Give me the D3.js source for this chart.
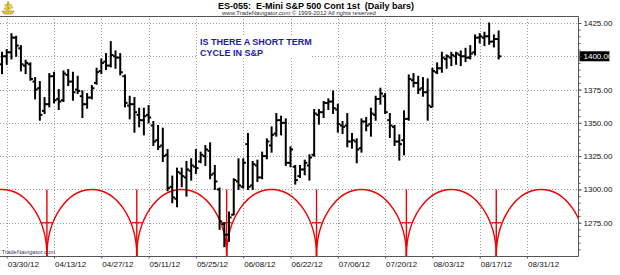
<!DOCTYPE html>
<html>
<head>
<meta charset="utf-8">
<script src="https://cdn.jsdelivr.net/npm/d3@7"></script>
<style>
    body { margin: 0; background: #fff; }
    svg { display: block; font-family: "Liberation Sans", Arial, sans-serif; }
</style>
</head>
<body>
<svg id="chart" width="620" height="275"></svg>
<script>
// daily bars, one slot per weekday starting 03/29/12
var opens = [1394, 1400, 1403, 1414, 1406, 1393, 1394, 1381, 1376, 1359, 1364, 1385, 1368, 1367, 1386, 1381, 1375, 1370, 1364, 1369,
    1380, 1389, 1396, 1393, 1400, 1399, 1385, 1363, 1364, 1356, 1352, 1356, 1348, 1337, 1333, 1326, 1302, 1293, 1312, 1309,
    1314, 1317, 1321, 1325, 1329, 1312, 1300, 1274, 1266, 1281, 1306, 1302, 1334, 1303, 1318, 1309, 1325, 1333, 1342, 1352,
    1350, 1320, 1317, 1310, 1315, 1318, 1326, 1356, 1358, 1365, 1366, 1360, 1348, 1348, 1336, 1336, 1331, 1351, 1349, 1356,
    1368, 1370, 1352, 1347, 1336, 1337, 1353, 1382, 1380, 1376, 1373, 1362, 1388, 1391, 1398, 1399, 1400, 1401, 1400, 1399,
    1403, 1414, 1414, 1415, 1411, 1413];
var highs = [1403, 1405, 1417, 1415, 1408, 1397, 1395, 1384, 1381, 1369, 1387, 1388, 1375, 1389, 1390, 1388, 1385, 1374, 1372, 1378,
    1391, 1398, 1402, 1411, 1404, 1402, 1386, 1370, 1369, 1361, 1361, 1363, 1351, 1348, 1346, 1330, 1310, 1316, 1316, 1321,
    1323, 1330, 1328, 1333, 1335, 1318, 1301, 1275, 1283, 1308, 1323, 1323, 1342, 1321, 1322, 1328, 1338, 1347, 1357, 1355,
    1353, 1332, 1318, 1318, 1322, 1326, 1360, 1360, 1366, 1368, 1374, 1364, 1351, 1357, 1342, 1338, 1353, 1354, 1361, 1370,
    1376, 1372, 1357, 1348, 1341, 1359, 1386, 1387, 1385, 1384, 1383, 1391, 1395, 1403, 1401, 1403, 1403, 1404, 1406, 1408,
    1416, 1417, 1418, 1425, 1416, 1419];
var lows = [1387, 1394, 1398, 1400, 1389, 1387, 1382, 1368, 1352, 1357, 1362, 1365, 1360, 1366, 1378, 1367, 1372, 1354, 1361, 1368,
    1379, 1387, 1390, 1392, 1391, 1386, 1362, 1353, 1343, 1347, 1341, 1350, 1333, 1330, 1321, 1299, 1290, 1287, 1302, 1295,
    1307, 1312, 1320, 1318, 1308, 1300, 1270, 1257, 1261, 1281, 1300, 1301, 1300, 1300, 1306, 1308, 1323, 1328, 1340, 1341,
    1318, 1317, 1304, 1309, 1311, 1307, 1325, 1349, 1354, 1360, 1357, 1343, 1342, 1332, 1331, 1320, 1328, 1344, 1340, 1352,
    1364, 1357, 1339, 1333, 1322, 1326, 1352, 1377, 1372, 1370, 1352, 1362, 1387, 1388, 1391, 1393, 1394, 1393, 1396, 1398,
    1401, 1410, 1408, 1409, 1407, 1398];
var closes = [1400, 1403, 1414, 1408, 1394, 1395, 1383, 1375, 1356, 1364, 1385, 1367, 1366, 1387, 1381, 1373, 1374, 1364, 1369, 1376,
    1388, 1395, 1393, 1401, 1399, 1388, 1365, 1364, 1358, 1352, 1355, 1354, 1336, 1332, 1325, 1301, 1294, 1313, 1310, 1315,
    1318, 1316, 1326, 1330, 1311, 1306, 1276, 1266, 1279, 1307, 1303, 1320, 1302, 1319, 1309, 1325, 1336, 1341, 1352, 1350,
    1320, 1330, 1307, 1315, 1320, 1324, 1357, 1358, 1365, 1366, 1361, 1349, 1347, 1336, 1337, 1330, 1351, 1348, 1357, 1368,
    1372, 1358, 1348, 1336, 1334, 1353, 1383, 1380, 1375, 1373, 1363, 1389, 1391, 1399, 1400, 1401, 1402, 1400, 1399, 1402,
    1414, 1415, 1415, 1411, 1413, 1400];

var dateLabels = ["03/30/12", "04/13/12", "04/27/12", "05/11/12", "05/25/12", "06/08/12",
    "06/22/12", "07/06/12", "07/20/12", "08/03/12", "08/17/12", "08/31/12"];
var dateSlots = [1, 11, 21, 31, 41, 51, 61, 71, 81, 91, 101, 111];
var priceTicks = [1275, 1300, 1325, 1350, 1375, 1400, 1425];
var lastPrice = 1400;

// projected cycle lows (bar slot), arc top and base
var cycleLows = [-9.5, 9.5, 28.5, 47.5, 66.5, 85.5, 104.5, 123.5];
var cycleTop = 1300, cycleBase = 1250, cycleMark = 1275;

var plot = { left: 0, right: 578, top: 16, bottom: 256 };

var svg = d3.select("#chart");

var x = d3.scaleLinear().domain([-0.42, 121.78]).range([plot.left, plot.right]);
var y = d3.scaleLinear().domain([1250, 1430.25]).range([plot.bottom, plot.top]);

svg.append("defs").append("clipPath").attr("id", "plotclip")
    .append("rect")
    .attr("x", plot.left).attr("y", plot.top)
    .attr("width", plot.right - plot.left).attr("height", plot.bottom - plot.top);

// header
var logo = svg.append("g").attr("transform", "translate(1,0)");
logo.append("path")
    .attr("d", "M1,11 L13,11 L11,14 L3,14 Z")
    .attr("fill", "#e6d21c").attr("stroke", "#8c7a10").attr("stroke-width", 0.6);
logo.append("path")
    .attr("d", "M7,1 L7,11 M3,5 L11,5 M4,9 L10,9")
    .attr("stroke", "#c9b010").attr("stroke-width", 1.2);
logo.append("path")
    .attr("d", "M7,2 L12,8 L7,8 Z M7,3 L3,9 L7,9 Z")
    .attr("fill", "#f2e23a").attr("stroke", "#9a8612").attr("stroke-width", 0.5);

svg.append("text")
    .attr("x", 218).attr("y", 8.5)
    .attr("font-size", "9px").attr("font-weight", "bold")
    .attr("xml:space", "preserve")
    .text("ES-055:  E-Mini S&P 500 Cont 1st  (Daily bars)");

svg.append("text")
    .attr("x", 222).attr("y", 14.5)
    .attr("font-size", "6px").attr("fill", "#333")
    .text("www.TradeNavigator.com \u00a9 1999-2012 All rights reserved");

// grid
var grid = svg.append("g");
grid.selectAll(".hgrid").data(priceTicks).enter().append("line")
    .attr("x1", plot.left).attr("x2", plot.right)
    .attr("y1", function (d) { return Math.round(y(d)) + 0.5; })
    .attr("y2", function (d) { return Math.round(y(d)) + 0.5; })
    .attr("stroke", "#9a9a9a").attr("stroke-dasharray", "1,2");
grid.selectAll(".vgrid").data(dateSlots).enter().append("line")
    .attr("x1", function (d) { return Math.round(x(d)) + 0.5; })
    .attr("x2", function (d) { return Math.round(x(d)) + 0.5; })
    .attr("y1", plot.top).attr("y2", plot.bottom)
    .attr("stroke", "#9a9a9a").attr("stroke-dasharray", "1,2");

// cycle arcs
var cyc = svg.append("g").attr("clip-path", "url(#plotclip)");
var ry = y(cycleBase) - y(cycleTop);
cyc.selectAll(".arc").data(cycleLows.slice(0, -1)).enter().append("path")
    .attr("d", function (d, i) {
        var x1 = x(d), x2 = x(cycleLows[i + 1]);
        var rx = (x2 - x1) / 2;
        return "M" + x1 + "," + y(cycleBase) + " A" + rx + "," + ry + " 0 0 1 " + x2 + "," + y(cycleBase);
    })
    .attr("fill", "none").attr("stroke", "#f00000").attr("stroke-width", 1.4);

var visibleLows = cycleLows.filter(function (d) { return d > x.domain()[0] && d < x.domain()[1]; });
cyc.selectAll(".low").data(visibleLows).enter().append("line")
    .attr("x1", function (d) { return x(d); }).attr("x2", function (d) { return x(d); })
    .attr("y1", y(cycleTop)).attr("y2", y(cycleBase))
    .attr("stroke", "#f00000").attr("stroke-width", 1.4);
cyc.selectAll(".mark").data(visibleLows).enter().append("line")
    .attr("x1", function (d) { return x(d) - 5; }).attr("x2", function (d) { return x(d) + 5; })
    .attr("y1", y(cycleMark)).attr("y2", y(cycleMark))
    .attr("stroke", "#f00000").attr("stroke-width", 1.2);

// price bars
var bars = svg.append("g").attr("clip-path", "url(#plotclip)")
    .attr("stroke", "#000").attr("stroke-width", 2);
highs.forEach(function (h, i) {
    var cx = x(i);
    bars.append("line").attr("x1", cx).attr("x2", cx)
        .attr("y1", y(h) - 0.5).attr("y2", y(lows[i]) + 0.5);
    bars.append("line").attr("x1", cx - 2.6).attr("x2", cx)
        .attr("y1", y(opens[i])).attr("y2", y(opens[i]));
    bars.append("line").attr("x1", cx).attr("x2", cx + 2.6)
        .attr("y1", y(closes[i])).attr("y2", y(closes[i]));
});

// note, on a white box like the original
svg.append("rect")
    .attr("x", 198).attr("y", 36).attr("width", 112).attr("height", 22)
    .attr("fill", "#fff");
var note = svg.append("text")
    .attr("font-size", "9px").attr("font-weight", "bold").attr("fill", "#1c1ca8");
note.append("tspan").attr("x", 200).attr("y", 45).text("IS THERE A SHORT TERM");
note.append("tspan").attr("x", 200).attr("y", 55.5).text("CYCLE IN S&P");

svg.append("text")
    .attr("x", 1.5).attr("y", 254)
    .attr("font-size", "6px").attr("fill", "#3a3a6a")
    .text("TradeNavigator.com");

// frame
svg.append("path")
    .attr("d", "M" + plot.left + "," + (plot.top + 0.5) + " H" + (plot.right + 0.5) +
        " V" + (plot.bottom + 0.5) + " H" + plot.left)
    .attr("fill", "none").attr("stroke", "#555").attr("stroke-width", 1);

// right price axis
var minorTicks = d3.range(1255, 1430, 5);
svg.append("g")
    .attr("transform", "translate(" + (plot.right + 0.5) + ",0)")
    .call(d3.axisRight(y).tickValues(minorTicks).tickSize(2).tickFormat(""))
    .call(function (g) { g.select(".domain").remove(); })
    .selectAll("line").attr("stroke", "#555");

var yAxis = svg.append("g")
    .attr("transform", "translate(" + (plot.right + 0.5) + ",0)")
    .call(d3.axisRight(y).tickValues(priceTicks).tickSize(3).tickPadding(2).tickFormat(d3.format(".2f")));
yAxis.select(".domain").remove();
yAxis.selectAll("line").attr("stroke", "#555");
yAxis.selectAll("text").attr("font-size", "8px").attr("font-family", "Liberation Sans, Arial, sans-serif").attr("fill", "#111");

// last price marker
var lastY = y(lastPrice);
yAxis.selectAll(".tick").filter(function (d) { return d === lastPrice; }).select("text").attr("fill", "#fff");
yAxis.insert("rect", ".tick")
    .attr("x", 1).attr("y", lastY - 5).attr("width", 30).attr("height", 10)
    .attr("fill", "#000");

// date axis
var xAxis = svg.append("g")
    .attr("transform", "translate(0," + (plot.bottom + 0.5) + ")")
    .call(d3.axisBottom(x).tickValues(dateSlots).tickSize(2).tickPadding(3)
        .tickFormat(function (d, i) { return dateLabels[i]; }));
xAxis.select(".domain").remove();
xAxis.selectAll("line").attr("stroke", "#555");
xAxis.selectAll("text")
    .attr("font-size", "8px").attr("font-family", "Liberation Sans, Arial, sans-serif")
    .attr("fill", "#111").attr("text-anchor", "start").attr("dx", "0.5");
</script>
</body>
</html>
